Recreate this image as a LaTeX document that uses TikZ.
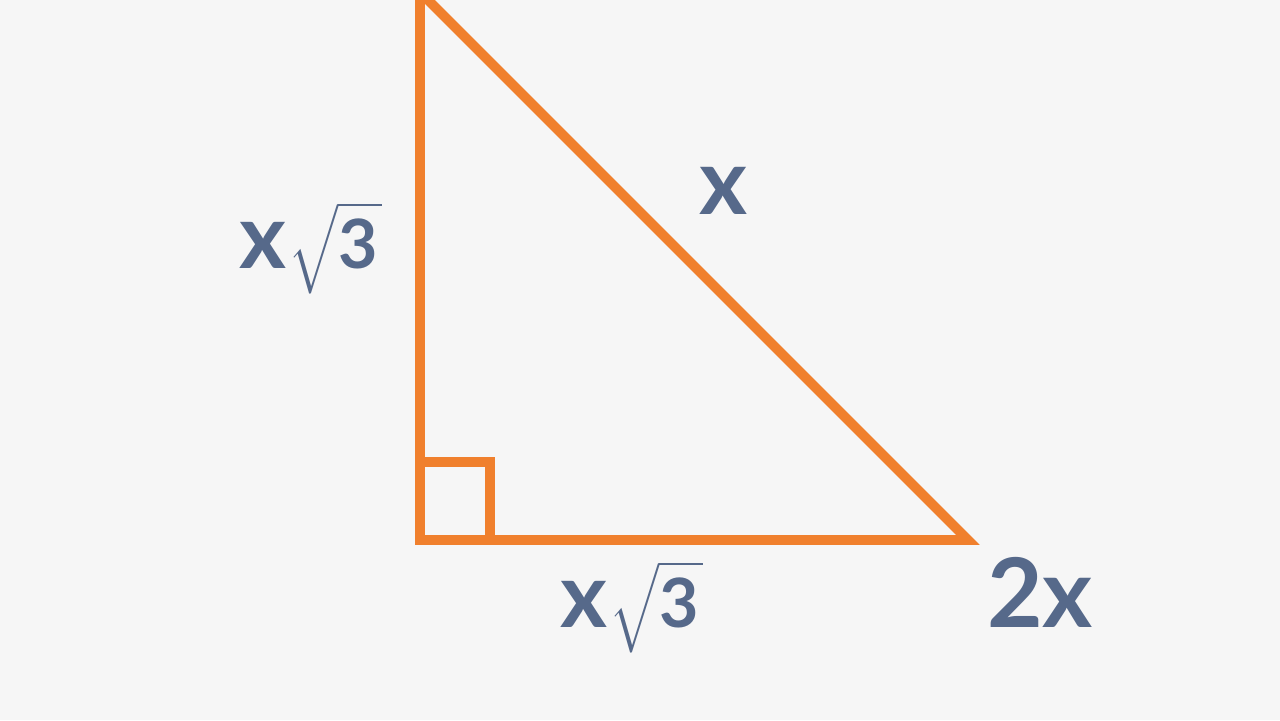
\documentclass[tikz,border=0pt]{standalone}
\usepackage{amsmath}
\usepackage{fontspec}
\setmainfont{Lato}
\definecolor{triorange}{RGB}{240,128,45}
\definecolor{lblblue}{RGB}{86,105,138}
\definecolor{bggray}{RGB}{246,246,246}
\newcommand{\xroot}{x\kern1pt$\sqrt{\rule[-11pt]{0pt}{38.5pt}\text{\fontsize{34}{36}\selectfont 3}\kern2pt}$}

\begin{document}
\begin{tikzpicture}[x=0.5pt,y=-0.5pt,
  side/.style={draw=triorange,line width=4.8pt},
  lbl/.style={text=lblblue,inner sep=0pt,font=\bfseries}]
\fill[bggray] (0,0) rectangle (1280,720);
\useasboundingbox (0,0) rectangle (1280,720);
\begin{scope}
\clip (0,0) rectangle (1280,720);
\draw[side,line join=miter] (420,-8) -- (420,540) -- (968,540) -- cycle;
\draw[side] (420,462) -- (490,462) -- (490,540);
\end{scope}
\node[lbl,anchor=base west,font=\bfseries\fontsize{45}{48}\selectfont] (leftside) at (239,268) {\xroot};
\node[lbl,anchor=base west,font=\bfseries\fontsize{45}{48}\selectfont] (bottomside) at (560,627) {\xroot};
\node[lbl,font=\bfseries\fontsize{46}{48}\selectfont] (hyp) at (724,191) {x};
\node[lbl,font=\bfseries\fontsize{48}{50}\selectfont] (corner) at (1040,592) {2x};
\end{tikzpicture}
\end{document}
